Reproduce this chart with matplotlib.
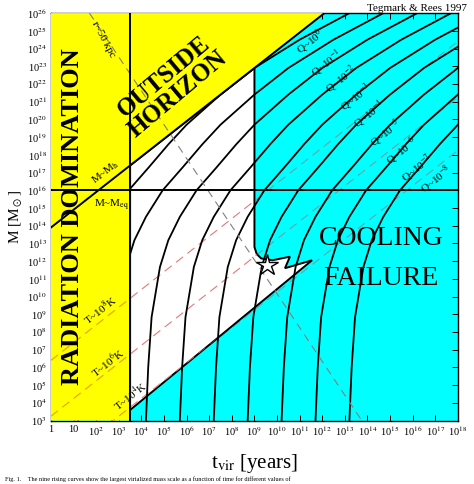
import numpy as np
import matplotlib
matplotlib.use("Agg")
import matplotlib.pyplot as plt
from matplotlib.patches import Polygon

plt.rcParams['font.family'] = ['Liberation Serif', 'DejaVu Serif']
plt.rcParams['mathtext.fontset'] = 'stix'

# ---- data (log10 units) ----
x_decades = list(range(0, 19))
y_decades = list(range(3, 27))
x_ticklabels = ["1", "10"] + [f"10$^{{{i}}}$" for i in range(2, 19)]
y_ticklabels = [f"10$^{{{i}}}$" for i in range(3, 27)]

t_rad = 3.5          # end of radiation domination (log t)
t_cool = 9.0         # cooling vertical (log t)
M_eq = 16.0
horizon_x = [0.0, 12.1]
horizon_y = [13.9, 26.0]
cool_x = [3.5, 11.55]
cool_y = [3.6, 12.05]
notch_x = [9.0, 9.1, 9.3, 9.8, 10.57, 10.35, 11.55]
notch_y = [12.8, 12.4, 12.15, 12.05, 12.25, 11.6, 12.05]
star_xy = (9.54, 11.8)

# base Q~1 curve (log t, log M); curve for Q=10^k is shifted by -1.5k decades in t
base_u = [1.2, 1.3, 1.45, 1.82, 2.19, 2.7, 3.44, 4.33, 5.2, 6.0, 7.5, 9.0, 11.0, 13.5, 16.0]
base_g = [3.0, 6.0, 8.84, 11.67, 13.18, 14.5, 16.0, 17.3, 18.6, 19.7, 21.4, 22.9, 24.5, 26.2, 27.9]
Q_exp = [0, -1, -2, -3, -4, -5, -6, -7, -8]
Q_shift_x = 1.5
Q_label_x = [11.45, 12.2, 12.85, 13.5, 14.1, 14.8, 15.5, 16.2, 17.05]
Q_label_y = [24.35, 23.15, 22.25, 21.25, 20.25, 19.25, 18.25, 17.25, 16.6]

T_intercepts = [0.25, 3.25, 6.4]
T_labels = ["T~10$^{4}$K", "T~10$^{6}$K", "T~10$^{8}$K"]
T_label_xy = [(3.5, 4.4), (2.5, 6.3), (2.2, 9.2)]
r50_x = [1.7, 13.75]
r50_y = [26.0, 3.0]

P = lambda a: 10.0 ** np.asarray(a, dtype=float)

fig = plt.figure(figsize=(4.74, 4.84), dpi=100)
ax = fig.add_axes([0.1076, 0.131, 0.8584, 0.842])
ax.set_xscale('log'); ax.set_yscale('log')
ax.set_xlim(1, 1e18); ax.set_ylim(1e3, 1e26)
ax.set_facecolor('#00ffff')

slope_h = (horizon_y[1] - horizon_y[0]) / (horizon_x[1] - horizon_x[0])
hy = horizon_y[0] + (t_rad - horizon_x[0]) * slope_h
hy9 = horizon_y[0] + (t_cool - horizon_x[0]) * slope_h

# white region
wx = [t_rad, t_rad, t_cool] + notch_x + [cool_x[0]]
wy = [cool_y[0], hy, hy9] + notch_y + [cool_y[0]]
white = Polygon(np.column_stack([P(wx), P(wy)]), closed=True, fc='white', ec='black', lw=1.4, zorder=1.2)
ax.add_patch(white)

# yellow region
yx = [0, t_rad, t_rad, horizon_x[1], 0]
yy = [3, 3, hy, 26, 26]
yellow = Polygon(np.column_stack([P(yx), P(yy)]), closed=True, fc='#ffff00', ec='none', zorder=3)
ax.add_patch(yellow)

# T lines
tx = np.array([0, 18.0])
for b in T_intercepts:
    ax.plot(P(tx), P(tx + b), color='#6fa0a8', lw=0.8, ls=(0, (8, 5)), zorder=1.1)
    l2, = ax.plot(P(tx), P(tx + b), color='#e87878', lw=0.8, ls=(0, (8, 5)), zorder=1.5)
    l2.set_clip_path(white)
    l3, = ax.plot(P(tx), P(tx + b), color='#e8a000', lw=0.8, ls=(0, (8, 5)), zorder=3.5)
    l3.set_clip_path(yellow)

# Q curves
u = np.array(base_u); g = np.array(base_g)
for k in Q_exp:
    ax.plot(P(u - Q_shift_x * k), P(g), color='black', lw=1.3, zorder=2)

# black boundary lines
ax.plot(P(horizon_x), P(horizon_y), color='black', lw=1.4, zorder=4)
ax.plot(P([t_rad, t_rad]), P([3, 26]), color='black', lw=1.4, zorder=4)
ax.plot(P([0, 18]), P([M_eq, M_eq]), color='black', lw=1.4, zorder=4)

# r ~ 50 kpc
ax.plot(P(r50_x), P(r50_y), color='#808080', lw=0.8, ls=(0, (7, 5)), zorder=3.6)

# star
ax.plot([P(star_xy[0])], [P(star_xy[1])], marker='*', ms=16, mfc='white', mec='black', mew=1.0, zorder=5)

# ticks
ax.set_xticks(P(x_decades)); ax.set_xticklabels(x_ticklabels, fontsize=7.5)
ax.set_yticks(P(y_decades)); ax.set_yticklabels(y_ticklabels, fontsize=7.5)
ax.minorticks_off()
ax.tick_params(direction='in', top=True, right=True, length=4, width=0.7, pad=3)
for s in ax.spines.values():
    s.set_linewidth(1.0)
ax.set_xlabel("t$_{\\rm vir}$ [years]", fontsize=15, labelpad=10)
ax.set_ylabel("M [M$_\\odot$]", fontsize=11, labelpad=2)

# labels
ax.text(P(0.95), P(14.5), "RADIATION DOMINATION", rotation=90, fontsize=19, fontweight='bold',
        ha='center', va='center', zorder=6)
ax.text(P(5.3), P(21.9), "OUTSIDE\nHORIZON", rotation=40, fontsize=18, fontweight='bold',
        ha='center', va='center', linespacing=1.0, zorder=6)
ax.text(P(14.6), P(13.3), "COOLING", fontsize=20, ha='center', va='center', zorder=6)
ax.text(P(14.6), P(11.0), "FAILURE", fontsize=20, ha='center', va='center', zorder=6)
ax.text(P(2.3), P(24.5), "r~50 kpc", rotation=-62, fontsize=8, ha='center', va='center', zorder=6)
ax.text(P(2.4), P(17.0), "M~M$_{\\rm h}$", rotation=38, fontsize=8, ha='center', va='center', zorder=6)
ax.text(P(2.7), P(15.15), "M~M$_{\\rm eq}$", fontsize=8, ha='center', va='center', zorder=6)
for k, lx, ly in zip(Q_exp, Q_label_x, Q_label_y):
    ax.text(P(lx), P(ly), f"Q~10$^{{{k}}}$", rotation=38, fontsize=8, ha='center', va='center', zorder=6)
for lab, (lx, ly) in zip(T_labels, T_label_xy):
    ax.text(P(lx), P(ly), lab, rotation=38, fontsize=8, ha='center', va='center', zorder=6)

fig.text(0.985, 0.992, "Tegmark & Rees 1997", fontsize=8, ha='right', va='top')
fig.text(0.01, 0.005, "Fig. 1.    The nine rising curves show the largest virialized mass scale as a function of time for different values of",
         fontsize=4.5, ha='left', va='bottom')

fig.savefig("out.png", dpi=100)
